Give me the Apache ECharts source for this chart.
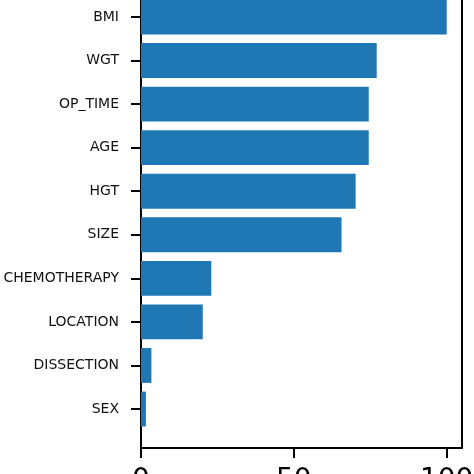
<!DOCTYPE html>
<html>
<head>
<meta charset="utf-8">
<script src="https://cdn.jsdelivr.net/npm/echarts@6/dist/echarts.min.js"></script>
<style>
html, body { margin: 0; padding: 0; background: #fff; }
#chart { width: 474px; height: 474px; }
</style>
</head>
<body>
<div id="chart"></div>
<script>
var features = ['BMI', 'WGT', 'OP_TIME', 'AGE', 'HGT', 'SIZE', 'CHEMOTHERAPY', 'LOCATION', 'DISSECTION', 'SEX'];
var importance = [100, 77.1, 74.5, 74.5, 70.2, 65.6, 23, 20.2, 3.4, 1.6];
var xTicks = [0, 50, 100];

function initChart() {
    var myChart = echarts.init(document.getElementById('chart'));
    var black = '#000';
    var option = {
        backgroundColor: '#fff',
        animation: false,
        grid: [
            // frame (spines + x ticks)
            { left: 141, right: 12, top: -22, bottom: 26, outerBoundsMode: 'none', containLabel: false },
            // bars
            { left: 141, right: 12, top: -4.8, bottom: 43.2, outerBoundsMode: 'none', containLabel: false }
        ],
        xAxis: [
            {
                gridIndex: 0, type: 'value', min: 0, max: 105, interval: 50,
                axisLine: { show: true, lineStyle: { color: black, width: 2 } },
                axisTick: { show: true, length: 10, lineStyle: { color: black, width: 2 },
                    customValues: xTicks },
                axisLabel: { show: true, fontSize: 28, color: black, fontFamily: 'DejaVu Sans', margin: 19,
                    customValues: xTicks },
                splitLine: { show: false }
            },
            {
                gridIndex: 0, type: 'value', position: 'top', min: 0, max: 105,
                axisLine: { show: true, onZero: false, lineStyle: { color: black, width: 2 } },
                axisTick: { show: false }, axisLabel: { show: false }, splitLine: { show: false }
            },
            {
                gridIndex: 1, type: 'value', min: 0, max: 105,
                axisLine: { show: false }, axisTick: { show: false },
                axisLabel: { show: false }, splitLine: { show: false }
            }
        ],
        yAxis: [
            {
                gridIndex: 0, type: 'value', position: 'left',
                axisLine: { show: true, onZero: false, lineStyle: { color: black, width: 2 } },
                axisTick: { show: false }, axisLabel: { show: false }, splitLine: { show: false }
            },
            {
                gridIndex: 0, type: 'value', position: 'right',
                axisLine: { show: true, onZero: false, lineStyle: { color: black, width: 2 } },
                axisTick: { show: false }, axisLabel: { show: false }, splitLine: { show: false }
            },
            {
                gridIndex: 1, type: 'category', data: features, inverse: true,
                axisLine: { show: false },
                axisTick: { show: true, alignWithLabel: true, length: 10,
                    lineStyle: { color: black, width: 2 } },
                axisLabel: { fontSize: 14, color: '#111', fontFamily: 'DejaVu Sans', margin: 22 },
                splitLine: { show: false }
            }
        ],
        series: [{
            type: 'bar',
            xAxisIndex: 2,
            yAxisIndex: 2,
            data: importance,
            barWidth: '80%',
            itemStyle: { color: '#1f77b4' }
        }]
    };
    myChart.setOption(option);
}
initChart();
</script>
</body>
</html>
